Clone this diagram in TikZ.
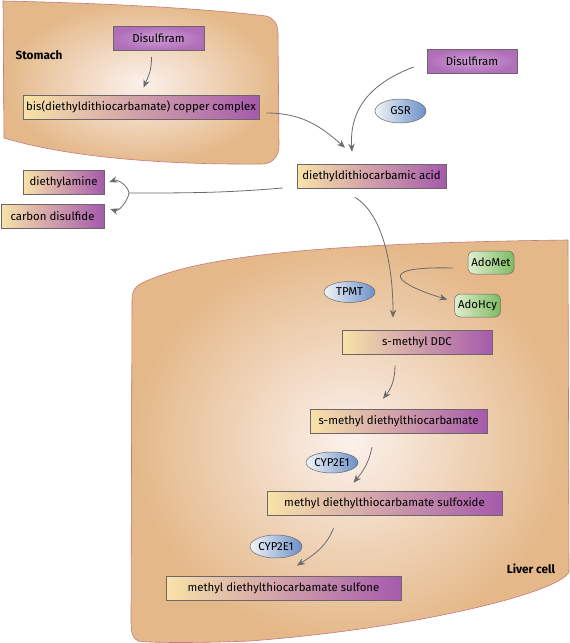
\documentclass[tikz,border=0pt]{standalone}
\usepackage{fontspec}
\setmainfont{Fira Sans}
\usetikzlibrary{arrows.meta,shapes.geometric,calc}
\definecolor{boxL}{HTML}{F8E3A8}
\definecolor{boxR}{HTML}{A65AAC}
\definecolor{disIn}{HTML}{CD9DD3}
\definecolor{disOut}{HTML}{B06EB9}
\definecolor{bluL}{HTML}{F2F4F8}
\definecolor{bluR}{HTML}{6A90C8}
\definecolor{grnL}{HTML}{E0EFCF}
\definecolor{grnR}{HTML}{7DBA63}
\definecolor{blobIn}{HTML}{FBF1EC}
\definecolor{blobOut}{HTML}{E4B888}
\definecolor{blobLine}{HTML}{C47A7E}
\definecolor{edge}{HTML}{6E6668}
\definecolor{arrc}{HTML}{6B6B6B}
\tikzset{
  blob/.style={draw=blobLine,line width=0.6pt,inner color=blobIn,outer color=blobOut},
  chem/.style={rectangle,draw=edge,line width=0.6pt,left color=boxL,right color=boxR,minimum height=24pt,inner sep=0pt,font=\fontsize{11.4}{13}\selectfont},
  drug/.style={rectangle,draw=edge,line width=0.6pt,inner color=disIn,outer color=disOut,minimum height=24pt,inner sep=0pt,font=\fontsize{11.4}{13}\selectfont},
  enz/.style={ellipse,draw=edge,line width=0.5pt,left color=bluL,right color=bluR,inner sep=0pt,font=\fontsize{11.4}{13}\selectfont},
  cof/.style={rectangle,rounded corners=6pt,draw=edge,line width=0.5pt,left color=grnL,right color=grnR,inner sep=0pt,minimum width=46pt,minimum height=23pt,font=\fontsize{11.4}{13}\selectfont},
  lbl/.style={font=\fontsize{11.8}{14}\selectfont\bfseries},
  arr/.style={draw=arrc,line width=0.8pt,-{Stealth[length=8pt,width=6.5pt]}},
  ln/.style={draw=arrc,line width=0.8pt}
}
\begin{document}
\begin{tikzpicture}[x=1pt,y=-1pt]
\useasboundingbox (0,0) rectangle (570,643);
% Stomach
\path[blob] (3,1) .. controls (100,3) and (200,8) .. (266,16) .. controls (274,18) and (278,24) .. (278,34) -- (279,145) .. controls (279,157) and (272,164) .. (262,164) .. controls (150,165) and (60,155) .. (4,138) -- cycle;
% Liver cell
\path[blob] (142,283) .. controls (200,255) and (330,243) .. (568,240) -- (569,572) .. controls (560,592) and (420,628) .. (250,641) .. controls (200,643) and (150,643) .. (138,641) .. controls (132,638) and (131,632) .. (131,620) -- (132,300) .. controls (132,290) and (136,286) .. (142,283) -- cycle;

\node[lbl] (stom) at (39,55) {Stomach};
\node[lbl] (liver) at (531,569) {Liver cell};

\node[drug,minimum width=91pt] (dis1) at (158.5,38.5) {Disulfiram};
\node[chem,minimum width=236pt] (bis) at (141,107) {bis(diethyldithiocarbamate) copper complex};
\node[drug,minimum width=90pt] (dis2) at (472,61) {Disulfiram};
\node[chem,minimum width=149pt] (ddc) at (371.5,176) {diethyldithiocarbamic acid};
\node[chem,minimum width=81pt] (dea) at (63.5,182) {diethylamine};
\node[chem,minimum width=103pt] (cs2) at (52.5,216) {carbon disulfide};
\node[chem,minimum width=150pt] (smddc) at (417,342) {s-methyl DDC};
\node[chem,minimum width=177pt] (smdtc) at (398.5,421) {s-methyl diethylthiocarbamate};
\node[chem,minimum width=235pt] (sulfox) at (384.5,503) {methyl diethylthiocarbamate sulfoxide};
\node[chem,minimum width=235pt] (sulfone) at (283.5,588) {methyl diethylthiocarbamate sulfone};

\node[enz,minimum width=51pt,minimum height=24pt] (gsr) at (400.5,111) {GSR};
\node[enz,minimum width=51pt,minimum height=21pt] (tpmt) at (349.5,292) {TPMT};
\node[enz,minimum width=52pt,minimum height=21pt] (cyp1) at (332,462.5) {CYP2E1};
\node[enz,minimum width=52pt,minimum height=23pt] (cyp2) at (276,546.5) {CYP2E1};
\node[cof] (adomet) at (491,262.5) {AdoMet};
\node[cof] (adohcy) at (477.5,305.5) {AdoHcy};

% arrows
\draw[arr] ([xshift=-7pt,yshift=-6pt]dis1.south) .. controls +(0,15) and +(5,-12) .. ([xshift=2.5pt,yshift=7pt]bis.north);
\draw[arr] ([xshift=7pt,yshift=-6pt]bis.east) .. controls +(35,0) and +(-25,-22) .. ([xshift=-26.5pt,yshift=16pt]ddc.north);
\draw[arr] ([xshift=-13pt,yshift=-6pt]dis2.west) .. controls +(-40,15) and +(-3,-45) .. ([xshift=-19.5pt,yshift=12pt]ddc.north);
\coordinate (split) at (129,193);
\draw[ln] ([xshift=-14pt,yshift=-12pt]ddc.west) .. controls +(-60,5) and +(60,0) .. (split);
\draw[arr] (split) .. controls +(-1,-7) and +(9,-3) .. ([xshift=5pt]dea.east);
\draw[arr] (split) .. controls +(-1,7) and +(9,3) .. ([xshift=6pt,yshift=7pt]cs2.east);
\draw[arr] ([xshift=-16.5pt,yshift=-9pt]ddc.south) .. controls +(25,15) and +(0,-60) .. ([xshift=-24pt,yshift=12pt]smddc.north);
\draw[arr] ([xshift=-15pt,yshift=-5.5pt]adomet.west) .. controls +(-83,-2) and +(-47,-14) .. ([xshift=-7pt,yshift=6pt]adohcy.west);
\draw[arr] ([xshift=-22pt,yshift=-11pt]smddc.south) .. controls +(0,15) and +(8,-10) .. ([xshift=-15.5pt,yshift=10pt]smdtc.north);
\draw[arr] ([xshift=-26.5pt,yshift=-14pt]smdtc.south) .. controls +(-3,15) and +(10,-12) .. ([xshift=-31pt,yshift=8pt]sulfox.north);
\draw[arr] ([xshift=-51pt,yshift=-13pt]sulfox.south) .. controls +(-8,20) and +(15,-10) .. ([xshift=13.5pt,yshift=10pt]sulfone.north);
\end{tikzpicture}
\end{document}
